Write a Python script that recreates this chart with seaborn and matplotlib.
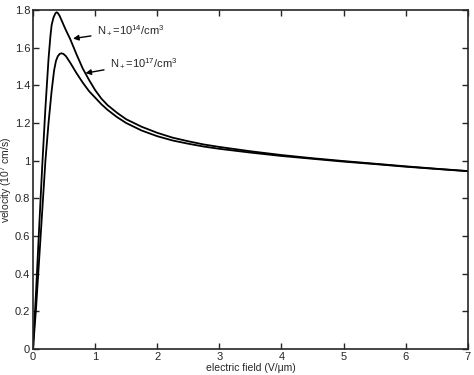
import numpy as np
import pandas as pd
import matplotlib
matplotlib.use("Agg")
import matplotlib.pyplot as plt
import seaborn as sns

# velocity-field curves (field in V/um, velocity in 1e7 cm/s)
field_lo = [0, 0.05, 0.1, 0.15, 0.2, 0.25, 0.28, 0.30, 0.33, 0.36, 0.38, 0.40, 0.43,
            0.47, 0.52, 0.6, 0.7, 0.8, 0.9, 1.0, 1.1, 1.2, 1.35, 1.5, 1.75, 2.0, 2.25,
            2.5, 2.75, 3.0, 3.5, 4.0, 4.5, 5.0, 5.5, 6.0, 6.5, 7.0]
vel_lo = [0, 0.31, 0.65, 0.98, 1.28, 1.54, 1.66, 1.72, 1.76, 1.782, 1.788, 1.784, 1.768,
          1.738, 1.70, 1.645, 1.565, 1.49, 1.43, 1.375, 1.33, 1.295, 1.255, 1.22, 1.18,
          1.148, 1.122, 1.103, 1.086, 1.073, 1.05, 1.03, 1.013, 0.998, 0.984, 0.97,
          0.957, 0.945]

field_hi = [0, 0.05, 0.1, 0.15, 0.2, 0.25, 0.3, 0.34, 0.37, 0.40, 0.43, 0.46, 0.49,
            0.53, 0.6, 0.7, 0.8, 0.9, 1.0, 1.1, 1.2, 1.35, 1.5, 1.75, 2.0, 2.25, 2.5,
            2.75, 3.0, 3.5, 4.0, 4.5, 5.0, 5.5, 6.0, 6.5, 7.0]
vel_hi = [0, 0.22, 0.48, 0.74, 1.0, 1.2, 1.37, 1.48, 1.53, 1.555, 1.567, 1.57, 1.567,
          1.555, 1.52, 1.465, 1.415, 1.37, 1.335, 1.3, 1.27, 1.232, 1.2, 1.16, 1.13,
          1.107, 1.09, 1.075, 1.063, 1.043, 1.025, 1.01, 0.995, 0.982, 0.968, 0.956,
          0.944]

x_ticks = [0, 1, 2, 3, 4, 5, 6, 7]
y_ticks = [0, 0.2, 0.4, 0.6, 0.8, 1, 1.2, 1.4, 1.6, 1.8]
y_tick_labels = ["0", "0.2", "0.4", "0.6", "0.8", "1", "1.2", "1.4", "1.6", "1.8"]

df = pd.concat([
    pd.DataFrame({"field": field_lo, "velocity": vel_lo, "doping": "1e14"}),
    pd.DataFrame({"field": field_hi, "velocity": vel_hi, "doping": "1e17"}),
])

sns.set_style("ticks")
plt.rcParams["font.family"] = ["Liberation Sans", "DejaVu Sans"]
plt.rcParams["mathtext.fontset"] = "custom"
plt.rcParams["mathtext.rm"] = "Liberation Sans"
plt.rcParams["mathtext.it"] = "Liberation Sans"

fig = plt.figure(figsize=(4.74, 3.75), dpi=100)
ax = fig.add_axes([0.0696, 0.0693, 0.9174, 0.9040])

sns.lineplot(data=df, x="field", y="velocity", hue="doping", palette=["black", "black"],
             linewidth=1.3, legend=False, ax=ax, sort=False)

ax.set_xlim(0, 7)
ax.set_ylim(0, 1.8)
ax.set_xticks(x_ticks)
ax.set_yticks(y_ticks)
ax.set_yticklabels(y_tick_labels)
ax.tick_params(direction="in", top=True, right=True, labelsize=8, length=4, width=1, pad=2)
for s in ax.spines.values():
    s.set_linewidth(1.2)
    s.set_visible(True)

ax.set_xlabel("electric field (V/\u03bcm)", fontsize=7.5, labelpad=1)
ax.set_ylabel("velocity (10$^7$ cm/s)", fontsize=7.5)
ax.yaxis.set_label_coords(-0.043, 0.5)

arrow = dict(arrowstyle="-|>", color="black", lw=1, mutation_scale=8)
ax.annotate("N$_+$=10$^{14}$/cm$^3$", xy=(0.6, 1.646), xytext=(1.03, 1.694),
            fontsize=8, va="center", ha="left", arrowprops=arrow)
ax.annotate("N$_+$=10$^{17}$/cm$^3$", xy=(0.8, 1.462), xytext=(1.24, 1.52),
            fontsize=8, va="center", ha="left", arrowprops=arrow)

plt.savefig("out.png", dpi=100)
plt.close()
